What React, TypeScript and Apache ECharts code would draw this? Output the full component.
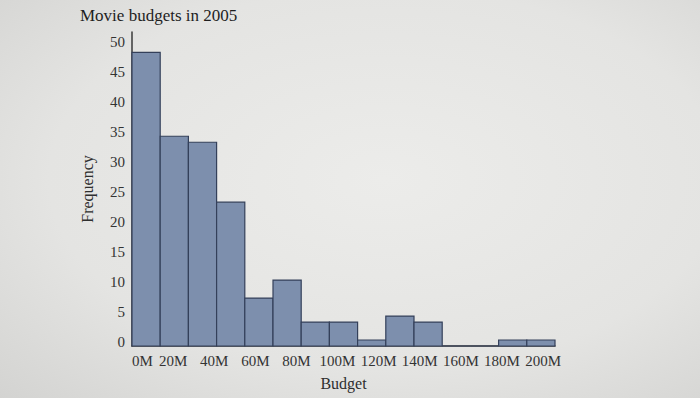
import React, { useEffect, useRef } from "react";
import * as echarts from "echarts";

const TITLE = "Movie budgets in 2005";
const X_NAME = "Budget";
const Y_NAME = "Frequency";
// 15 equal-width bins spanning roughly 0M..205M
const BIN_WIDTH = 13.72; // millions
const counts = [49, 35, 34, 24, 8, 11, 4, 4, 1, 5, 4, 0, 0, 1, 1];
const xTicks = [0, 20, 40, 60, 80, 100, 120, 140, 160, 180, 200];
const yTicks = [0, 5, 10, 15, 20, 25, 30, 35, 40, 45, 50];

const SERIF = "'Liberation Serif', 'DejaVu Serif', serif";

export default function App() {
  const ref = useRef<HTMLDivElement>(null);
  useEffect(() => {
    if (!ref.current) return;
    const chart = echarts.init(ref.current, null, { renderer: "svg" });
    const data = counts.map((c, i) => [i * BIN_WIDTH, (i + 1) * BIN_WIDTH, c]);
    chart.setOption({
      animation: false,
      backgroundColor: {
        type: "radial",
        x: 0.55,
        y: 0.45,
        r: 0.8,
        colorStops: [
          { offset: 0, color: "#ececea" },
          { offset: 0.6, color: "#e4e4e2" },
          { offset: 1, color: "#d2d2d0" },
        ],
      },
      title: {
        text: TITLE,
        left: 75,
        top: 2,
        textStyle: { fontFamily: SERIF, fontSize: 17, fontWeight: "normal", color: "#1e1e1e" },
      },
      grid: { left: 132, right: 145, top: 32, bottom: 52 },
      xAxis: {
        type: "value",
        min: 0,
        max: counts.length * BIN_WIDTH,
        interval: 20,
        name: X_NAME,
        nameLocation: "middle",
        nameGap: 29,
        nameTextStyle: { fontFamily: SERIF, fontSize: 16, color: "#2e2e2e" },
        splitLine: { show: false },
        axisTick: { show: false },
        axisLine: { show: true, lineStyle: { color: "#3a3a3a", width: 1.5 } },
        axisLabel: {
          fontFamily: SERIF,
          fontSize: 15,
          color: "#333",
          margin: 7,
          alignMinLabel: "left",
          showMaxLabel: false,
          formatter: (v: number) => (xTicks.includes(v) ? v + "M" : ""),
        },
      },
      yAxis: {
        type: "value",
        min: 0,
        max: 52.4,
        interval: 5,
        name: Y_NAME,
        nameLocation: "middle",
        nameGap: 37,
        nameTextStyle: { fontFamily: SERIF, fontSize: 16, color: "#2e2e2e" },
        splitLine: { show: false },
        axisTick: { show: false },
        axisLine: { show: true, lineStyle: { color: "#3a3a3a", width: 1.5 } },
        axisLabel: {
          fontFamily: SERIF,
          fontSize: 15,
          color: "#333",
          margin: 7,
          verticalAlign: "bottom",
          lineHeight: 9,
          showMaxLabel: false,
          formatter: (v: number) => (yTicks.includes(v) ? String(v) : ""),
        },
      },
      series: [
        {
          type: "custom",
          data,
          encode: { x: [0, 1], y: 2 },
          renderItem: (params: any, api: any) => {
            const start = api.coord([api.value(0), api.value(2)]);
            const end = api.coord([api.value(1), 0]);
            return {
              type: "rect",
              shape: {
                x: start[0],
                y: start[1],
                width: end[0] - start[0],
                height: end[1] - start[1],
              },
              style: { fill: "#7d8fad", stroke: "#34405a", lineWidth: 1.2 },
            };
          },
        },
      ],
    });
    return () => chart.dispose();
  }, []);
  return (
    <div
      ref={ref}
      style={{ position: "absolute", left: 0, top: 0, width: 700, height: 398 }}
    />
  );
}
